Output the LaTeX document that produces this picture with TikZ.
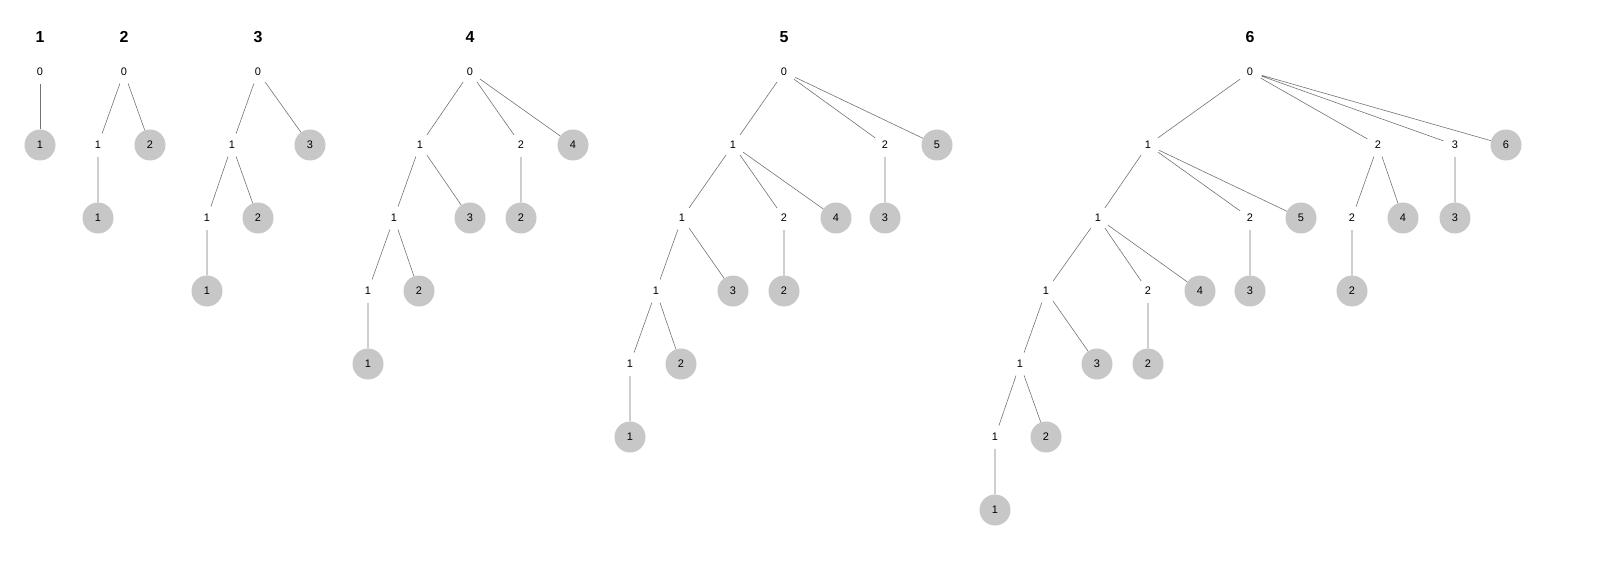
\documentclass[tikz,border=0pt]{standalone}
\usepackage{fontspec}
\setmainfont{Liberation Sans}
\begin{document}
\begin{tikzpicture}[x=1bp,y=-1bp,
  pl/.style={circle,minimum size=24bp,inner sep=0pt,font=\fontsize{11}{13}\selectfont},
  gr/.style={circle,minimum size=31bp,inner sep=0pt,fill=black!22,font=\fontsize{11}{13}\selectfont},
  hd/.style={font=\bfseries\fontsize{16}{19}\selectfont},
  ed/.style={draw=black!55,line width=0.6pt}]
\useasboundingbox (0,0) rectangle (1600,573);
% headers
\node[hd] (h1) at (40,37) {1};
\node[hd] (h2) at (124,37) {2};
\node[hd] (h3) at (258,37) {3};
\node[hd] (h4) at (470,37) {4};
\node[hd] (h5) at (784,37) {5};
\node[hd] (h6) at (1250,37) {6};
% tree 1
\node[pl] (a0) at (40,72) {0};
\node[gr] (a1) at (40,145) {1};
\draw[ed] (a0)--(a1);
% tree 2
\node[pl] (b0) at (124,72) {0};
\node[pl] (b1) at (98,145) {1};
\node[gr] (b2) at (150,145) {2};
\node[gr] (b3) at (98,218) {1};
\draw[ed] (b0)--(b1) (b0)--(b2) (b1)--(b3);
% tree 3
\node[pl] (c0) at (258,72) {0};
\node[pl] (c1) at (232,145) {1};
\node[gr] (c2) at (310,145) {3};
\node[pl] (c3) at (207,218) {1};
\node[gr] (c4) at (258,218) {2};
\node[gr] (c5) at (207,291) {1};
\draw[ed] (c0)--(c1) (c0)--(c2) (c1)--(c3) (c1)--(c4) (c3)--(c5);
% tree 4
\node[pl] (d0) at (470,72) {0};
\node[pl] (d1) at (420,145) {1};
\node[pl] (d2) at (521,145) {2};
\node[gr] (d3) at (573,145) {4};
\node[pl] (d4) at (394,218) {1};
\node[gr] (d5) at (470,218) {3};
\node[gr] (d6) at (521,218) {2};
\node[pl] (d7) at (368,291) {1};
\node[gr] (d8) at (419,291) {2};
\node[gr] (d9) at (368,364) {1};
\draw[ed] (d0)--(d1) (d0)--(d2) (d0)--(d3) (d1)--(d4) (d1)--(d5) (d2)--(d6)
  (d4)--(d7) (d4)--(d8) (d7)--(d9);
% tree 5
\node[pl] (e0) at (784,72) {0};
\node[pl] (e1) at (733,145) {1};
\node[pl] (e2) at (885,145) {2};
\node[gr] (e3) at (937,145) {5};
\node[pl] (e4) at (682,218) {1};
\node[pl] (e5) at (784,218) {2};
\node[gr] (e6) at (836,218) {4};
\node[gr] (e7) at (885,218) {3};
\node[pl] (e8) at (656,291) {1};
\node[gr] (e9) at (733,291) {3};
\node[gr] (e10) at (784,291) {2};
\node[pl] (e11) at (630,364) {1};
\node[gr] (e12) at (681,364) {2};
\node[gr] (e13) at (630,437) {1};
\draw[ed] (e0)--(e1) (e0)--(e2) (e0)--(e3) (e1)--(e4) (e1)--(e5) (e1)--(e6) (e2)--(e7)
  (e4)--(e8) (e4)--(e9) (e5)--(e10) (e8)--(e11) (e8)--(e12) (e11)--(e13);
% tree 6
\node[pl] (f0) at (1250,72) {0};
\node[pl] (f1) at (1148,145) {1};
\node[pl] (f2) at (1378,145) {2};
\node[pl] (f3) at (1455,145) {3};
\node[gr] (f4) at (1506,145) {6};
\node[pl] (f5) at (1098,218) {1};
\node[pl] (f6) at (1250,218) {2};
\node[gr] (f7) at (1301,218) {5};
\node[pl] (f8) at (1352,218) {2};
\node[gr] (f9) at (1403,218) {4};
\node[gr] (f10) at (1455,218) {3};
\node[pl] (f11) at (1046,291) {1};
\node[pl] (f12) at (1148,291) {2};
\node[gr] (f13) at (1200,291) {4};
\node[gr] (f14) at (1250,291) {3};
\node[gr] (f15) at (1352,291) {2};
\node[pl] (f16) at (1020,364) {1};
\node[gr] (f17) at (1097,364) {3};
\node[gr] (f18) at (1148,364) {2};
\node[pl] (f19) at (995,437) {1};
\node[gr] (f20) at (1046,437) {2};
\node[gr] (f21) at (995,510) {1};
\draw[ed] (f0)--(f1) (f0)--(f2) (f0)--(f3) (f0)--(f4)
  (f1)--(f5) (f1)--(f6) (f1)--(f7) (f2)--(f8) (f2)--(f9) (f3)--(f10)
  (f5)--(f11) (f5)--(f12) (f5)--(f13) (f6)--(f14) (f8)--(f15)
  (f11)--(f16) (f11)--(f17) (f12)--(f18) (f16)--(f19) (f16)--(f20) (f19)--(f21);
\end{tikzpicture}
\end{document}
